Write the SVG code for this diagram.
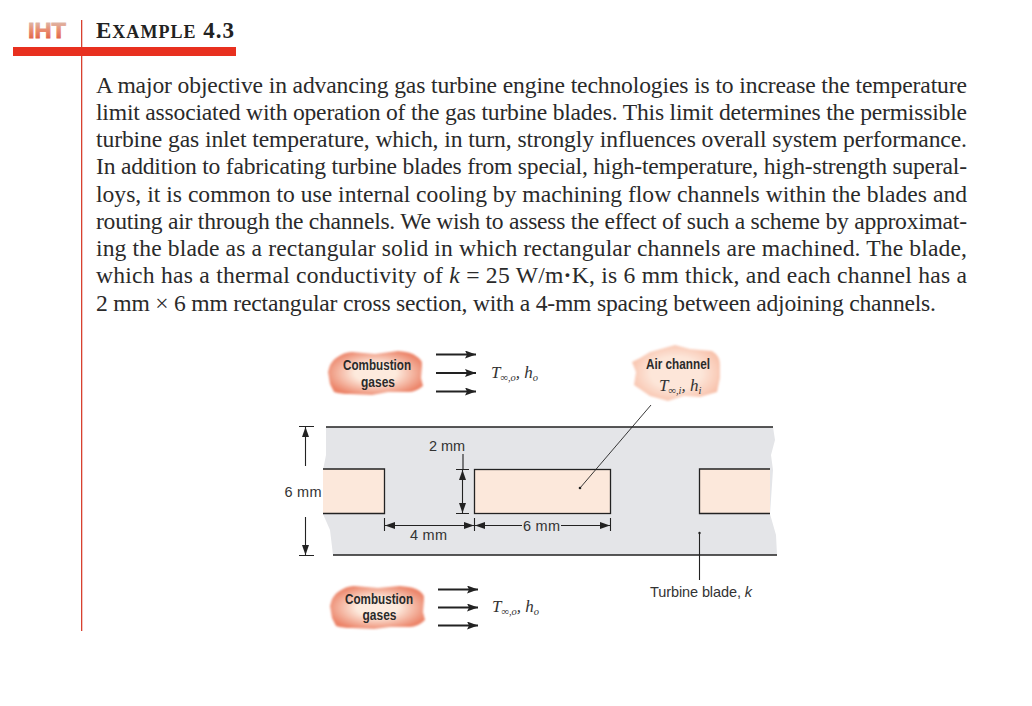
<svg xmlns="http://www.w3.org/2000/svg" width="1032" height="706" viewBox="0 0 1032 706">
<style>
.b{font:23.6px "Liberation Serif",serif;fill:#2a2a2a}
.s{font:14.5px "Liberation Sans",sans-serif;fill:#333}
.c{font:bold 15.5px "Liberation Sans",sans-serif;fill:#2a2a2a;text-anchor:middle}
.m{font:italic 17px "Liberation Serif",serif;fill:#333}
.sub{font-size:10.500px}
.l{stroke:#222;stroke-width:1.3;fill:none}
.d{stroke:#222;stroke-width:1.1;fill:none}
.a{stroke:#222;stroke-width:1.8;fill:none;marker-end:url(#ah)}
.h{fill:#fce8db;stroke:none}
.bl{filter:url(#soft)}
</style>
<defs>
<marker id="ah" markerUnits="userSpaceOnUse" markerWidth="11" markerHeight="8" refX="11" refY="4" orient="auto"><path d="M0 0L11 4L0 8L2 4Z" fill="#222"/></marker>
<marker id="dh" markerUnits="userSpaceOnUse" markerWidth="10" markerHeight="7" refX="10" refY="3.5" orient="auto-start-reverse"><path d="M0 0L10 3.5L0 7Z" fill="#222"/></marker>
<radialGradient id="o" cx="50%" cy="50%" r="55%"><stop offset="40%" stop-color="#fdeadd"/><stop offset="100%" stop-color="#ec8469"/></radialGradient>
<radialGradient id="p" cx="50%" cy="50%" r="58%"><stop offset="50%" stop-color="#fde6d9"/><stop offset="100%" stop-color="#f7bda6"/></radialGradient>
<linearGradient id="iht" x1="0" y1="0" x2="0" y2="1"><stop offset="0" stop-color="#d8cdc6"/><stop offset="0.5" stop-color="#e98a6c"/><stop offset="1" stop-color="#dd5236"/></linearGradient>
<filter id="soft" x="-5%" y="-10%" width="110%" height="120%"><feGaussianBlur stdDeviation="0.8"/></filter>
</defs>
<rect width="1032" height="706" fill="#fff"/>
<g id="header">
<rect x="81" y="20" width="1.300" height="611" fill="#d8402f"/>
<rect x="13" y="47" width="223" height="9" fill="#e8301f"/>
<text x="28" y="38" style="font:900 22px 'Liberation Sans',sans-serif" stroke="url(#iht)" stroke-width="0.8" fill="url(#iht)" textLength="38" lengthAdjust="spacingAndGlyphs">IHT</text>
<text x="96" y="38" style="font:bold 23px 'Liberation Serif',serif;fill:#222" textLength="138">E<tspan font-size="18">XAMPLE</tspan> 4.3</text>
</g>
<g id="body-text">
<text class="b" x="96" y="93" textLength="871">A major objective in advancing gas turbine engine technologies is to increase the temperature</text>
<text class="b" x="96" y="120" textLength="871">limit associated with operation of the gas turbine blades. This limit determines the permissible</text>
<text class="b" x="96" y="147" textLength="871">turbine gas inlet temperature, which, in turn, strongly influences overall system performance.</text>
<text class="b" x="96" y="174" textLength="871">In addition to fabricating turbine blades from special, high-temperature, high-strength superal-</text>
<text class="b" x="96" y="201.500" textLength="871">loys, it is common to use internal cooling by machining flow channels within the blades and</text>
<text class="b" x="96" y="228.500" textLength="871">routing air through the channels. We wish to assess the effect of such a scheme by approximat-</text>
<text class="b" x="96" y="255.500" textLength="871">ing the blade as a rectangular solid in which rectangular channels are machined. The blade,</text>
<text class="b" x="96" y="283" textLength="871">which has a thermal conductivity of <tspan font-style="italic">k</tspan> <tspan>=</tspan> 25 W/m<tspan font-weight="bold">·</tspan>K, is 6 mm thick, and each channel has a</text>
<text class="b" x="96" y="310.500" textLength="840">2 mm × 6 mm rectangular cross section, with a 4-mm spacing between adjoining channels.</text>
</g>
<g id="blade">
<path d="M326 427H773L775 440L771 455L773 470L770 514L776 535L777 555H333L330 530L323 514V470L326 455Z" fill="#e4e5e8"/>
<path d="M326 427H773M333 555H777" class="l"/>
</g>
<g id="channel-left"><rect class="h" x="323" y="469" width="61" height="44"/><path class="l" d="M323 469H384.500V513.500H323"/></g>
<g id="channel-center"><rect x="474.500" y="469.500" width="136" height="44" fill="#fce8db" stroke="#222" stroke-width="1.3"/></g>
<g id="channel-right"><rect class="h" x="699" y="469" width="71" height="44"/><path class="l" d="M770 469H699.500V513.500H770"/></g>
<g id="connectors">
<path class="a" d="M436 354.500H476"/><path class="a" d="M436 373H476"/><path class="a" d="M436 391.500H476"/>
<path class="a" d="M438 589.500H478"/><path class="a" d="M438 607.500H478"/><path class="a" d="M438 625.500H478"/>
<path class="d" d="M299 426.500H314M299 555.500H314"/>
<path class="d" marker-end="url(#dh)" d="M305.500 466V427"/>
<path class="d" marker-end="url(#dh)" d="M305.500 517V555"/>
<path class="d" d="M463 454V469.500M456 469.500H469M456 513.500H469"/>
<path class="d" marker-start="url(#dh)" marker-end="url(#dh)" d="M462.500 470V513"/>
<path class="d" d="M384.500 518V531M474.500 518V531M610.500 518V531"/>
<path class="d" marker-start="url(#dh)" marker-end="url(#dh)" d="M385 525.500H474"/>
<path class="d" marker-start="url(#dh)" d="M475 525.500H522"/>
<path class="d" marker-end="url(#dh)" d="M561 525.500H610"/>
<path d="M651 405L580 488" stroke="#222" stroke-width="0.9" fill="none"/>
<circle cx="580" cy="488" r="1.300" fill="#222"/>
<path d="M699.500 533V580" stroke="#222" stroke-width="1.1" fill="none"/>
<circle cx="699.500" cy="533" r="1.200" fill="#222"/>
</g>
<g id="top-gases">
<path class="bl" d="M336 358Q344 352 352 352L375 354L398 351Q412 352 416 356Q423 360 422 366L421 378L423 386Q416 392 408 392L388 392L372 395L350 394Q340 394 334 392L330 384L328 372Q330 362 336 358Z" fill="url(#o)"/>
<text class="c" x="377" y="370" textLength="68" lengthAdjust="spacingAndGlyphs">Combustion</text><text class="c" x="378" y="387" textLength="34" lengthAdjust="spacingAndGlyphs">gases</text>
</g>
<g id="top-label"><text class="m" x="491" y="378">T<tspan class="sub" dy="3">∞,o</tspan><tspan dy="-3">, h</tspan><tspan class="sub" dy="3">o</tspan></text></g>
<g id="air-channel">
<path class="bl" d="M640 358L650 352L675 345L690 349L712 351Q720 356 720 364L720 378L717 392L700 397L684 396L668 401L650 396L634 385L636 372L632 362Z" fill="url(#p)"/>
<text class="c" x="678" y="369" textLength="64" lengthAdjust="spacingAndGlyphs">Air channel</text>
<text class="m" x="659" y="391">T<tspan class="sub" dy="3">∞,i</tspan><tspan dy="-3">, h</tspan><tspan class="sub" dy="3">i</tspan></text>
</g>
<g id="bottom-gases">
<path class="bl" d="M338 592Q346 586 354 586L378 588L400 586Q414 587 418 590Q425 594 424 600L423 612L425 620Q418 627 410 627L390 627L374 629L352 628Q342 628 336 626L332 618L330 606Q332 596 338 592Z" fill="url(#o)"/>
<text class="c" x="379" y="604" textLength="68" lengthAdjust="spacingAndGlyphs">Combustion</text><text class="c" x="379.500" y="620" textLength="34" lengthAdjust="spacingAndGlyphs">gases</text>
</g>
<g id="bottom-label"><text class="m" x="492" y="612">T<tspan class="sub" dy="3">∞,o</tspan><tspan dy="-3">, h</tspan><tspan class="sub" dy="3">o</tspan></text></g>
<g id="dim-labels">
<text class="s" x="429" y="451" textLength="36">2 mm</text>
<text class="s" x="284.500" y="497" textLength="37">6 mm</text>
<text class="s" x="410" y="540" textLength="37">4 mm</text>
<text class="s" x="523" y="531" textLength="37">6 mm</text>
<text class="s" x="650" y="597" textLength="102">Turbine blade, <tspan font-style="italic">k</tspan></text>
</g>
</svg>
